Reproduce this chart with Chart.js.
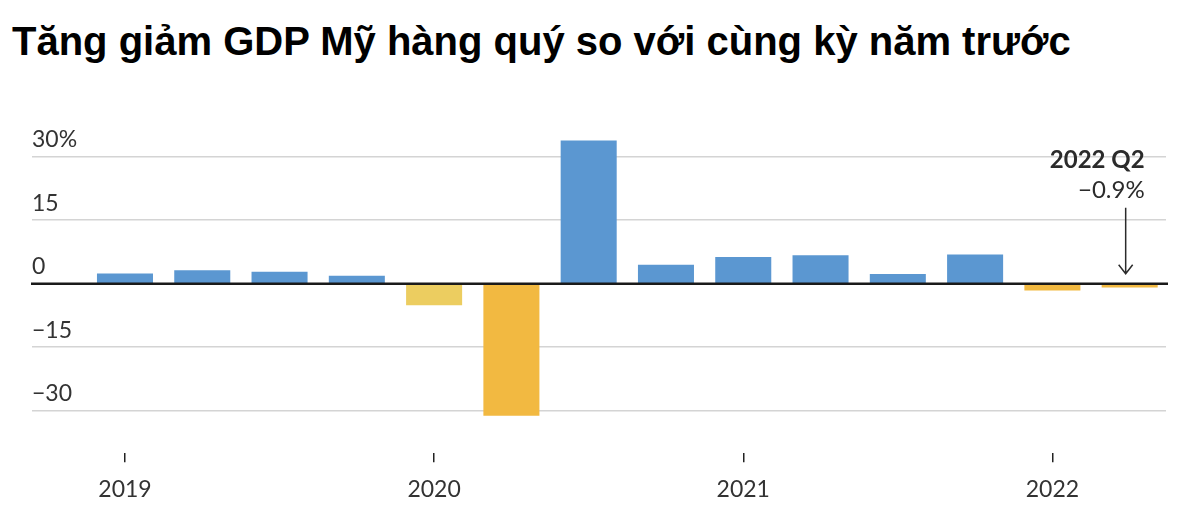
<!DOCTYPE html>
<html lang="vi">
<head>
<meta charset="utf-8">
<title>Tăng giảm GDP Mỹ</title>
<script src="https://cdn.jsdelivr.net/npm/chart.js@4.4.1/dist/chart.umd.min.js"></script>
<style>
  html, body { margin: 0; padding: 0; background: #fff; }
  #wrap { position: relative; width: 1186px; height: 532px; overflow: hidden; }
  h1 {
    position: absolute; left: 12px; top: 17px; margin: 0;
    font: bold 40px/48px "Liberation Sans", Arial, sans-serif;
    color: #000; white-space: nowrap;
  }
  canvas { position: absolute; left: 0; top: 0; }
</style>
</head>
<body>
<div id="wrap">
  <h1>Tăng giảm GDP Mỹ hàng quý so với cùng kỳ năm trước</h1>
  <canvas id="gdpChart" width="1186" height="532"></canvas>
</div>
<script>
// quarters 2019 Q1 .. 2022 Q2
const quarters = [
  "2019 Q1", "2019 Q2", "2019 Q3", "2019 Q4",
  "2020 Q1", "2020 Q2", "2020 Q3", "2020 Q4",
  "2021 Q1", "2021 Q2", "2021 Q3", "2021 Q4",
  "2022 Q1", "2022 Q2",
];
const growth = [2.4, 3.2, 2.8, 1.9, -5.1, -31.2, 33.8, 4.5, 6.3, 6.7, 2.3, 6.9, -1.6, -0.9];
const years = ["2019", "2020", "2021", "2022"];
const yearTicks = [0, 4, 8, 12]; // index of first quarter of each year
const yTicks = [-30, -15, 0, 15, 30];

const minus = (v) => (v < 0 ? "\u2212" + Math.abs(v) : String(v));

Chart.defaults.font.family = "Lato, 'Open Sans', sans-serif";

// zero line on top of the bars + note on the last quarter
const overlay = {
  id: "overlay",
  afterDatasetsDraw(chart) {
    const { ctx, chartArea, scales } = chart;
    const y0 = scales.y.getPixelForValue(0);
    ctx.save();
    ctx.strokeStyle = "#1a1a1a";
    ctx.lineWidth = 2.5;
    ctx.beginPath();
    ctx.moveTo(chartArea.left - 1, y0);
    ctx.lineTo(chartArea.right + 2, y0);
    ctx.stroke();

    const last = quarters.length - 1;
    const bx = scales.x.getPixelForValue(last);
    const ax = bx - 4;
    ctx.fillStyle = "#2b2b2b";
    ctx.textAlign = "right";
    ctx.textBaseline = "alphabetic";
    ctx.font = "bold 24px Lato, sans-serif";
    ctx.fillText(quarters[last], bx + 15, y0 - 116);
    ctx.font = "24px Lato, sans-serif";
    ctx.fillText(minus(growth[last]) + "%", bx + 15, y0 - 85.5);

    ctx.strokeStyle = "#2b2b2b";
    ctx.lineWidth = 1.5;
    ctx.beginPath();
    ctx.moveTo(ax, y0 - 76);
    ctx.lineTo(ax, y0 - 10);
    ctx.moveTo(ax - 7, y0 - 19);
    ctx.lineTo(ax, y0 - 10);
    ctx.lineTo(ax + 7, y0 - 19);
    ctx.stroke();
    ctx.restore();
  },
};

new Chart(document.getElementById("gdpChart"), {
  type: "bar",
  data: {
    datasets: [{
      data: growth.map((v, i) => ({ x: i, y: v })),
      backgroundColor: (c) => {
        const v = growth[c.dataIndex];
        if (v >= 0) return "#5b97d1";
        return c.dataIndex === 4 ? "#eccd60" : "#f2b941";
      },
      borderWidth: 0,
      categoryPercentage: 1,
      barPercentage: 0.725,
    }],
  },
  options: {
    responsive: false,
    animation: false,
    layout: { padding: { left: 32, right: 20, top: 130.7, bottom: 16.1 } },
    plugins: { legend: { display: false }, tooltip: { enabled: false } },
    scales: {
      x: {
        type: "linear",
        min: -1.203,
        max: 13.47,
        offset: false,
        afterBuildTicks: (s) => { s.ticks = yearTicks.map((v) => ({ value: v })); },
        grid: {
          offset: false,
          drawOnChartArea: false,
          drawTicks: true,
          tickLength: 9,
          color: "#222",
          lineWidth: 1.5,
        },
        border: { display: false },
        ticks: {
          padding: 13,
          color: "#333",
          font: { size: 23 },
          maxRotation: 0,
          autoSkip: false,
          callback: (v) => years[yearTicks.indexOf(v)],
        },
      },
      y: {
        min: -40.06,
        max: 36.14,
        afterBuildTicks: (s) => { s.ticks = yTicks.map((v) => ({ value: v })); },
        grid: {
          drawTicks: false,
          color: (c) => (c.tick && c.tick.value === 0 ? "rgba(0,0,0,0)" : "#d4d4d4"),
          lineWidth: 1.5,
        },
        border: { display: false },
        ticks: {
          mirror: true,
          padding: 0,
          labelOffset: -17,
          color: "#333",
          font: { size: 23 },
          callback: (v) => (v === 30 ? "30%" : minus(v)),
        },
      },
    },
  },
  plugins: [overlay],
});
</script>
</body>
</html>
